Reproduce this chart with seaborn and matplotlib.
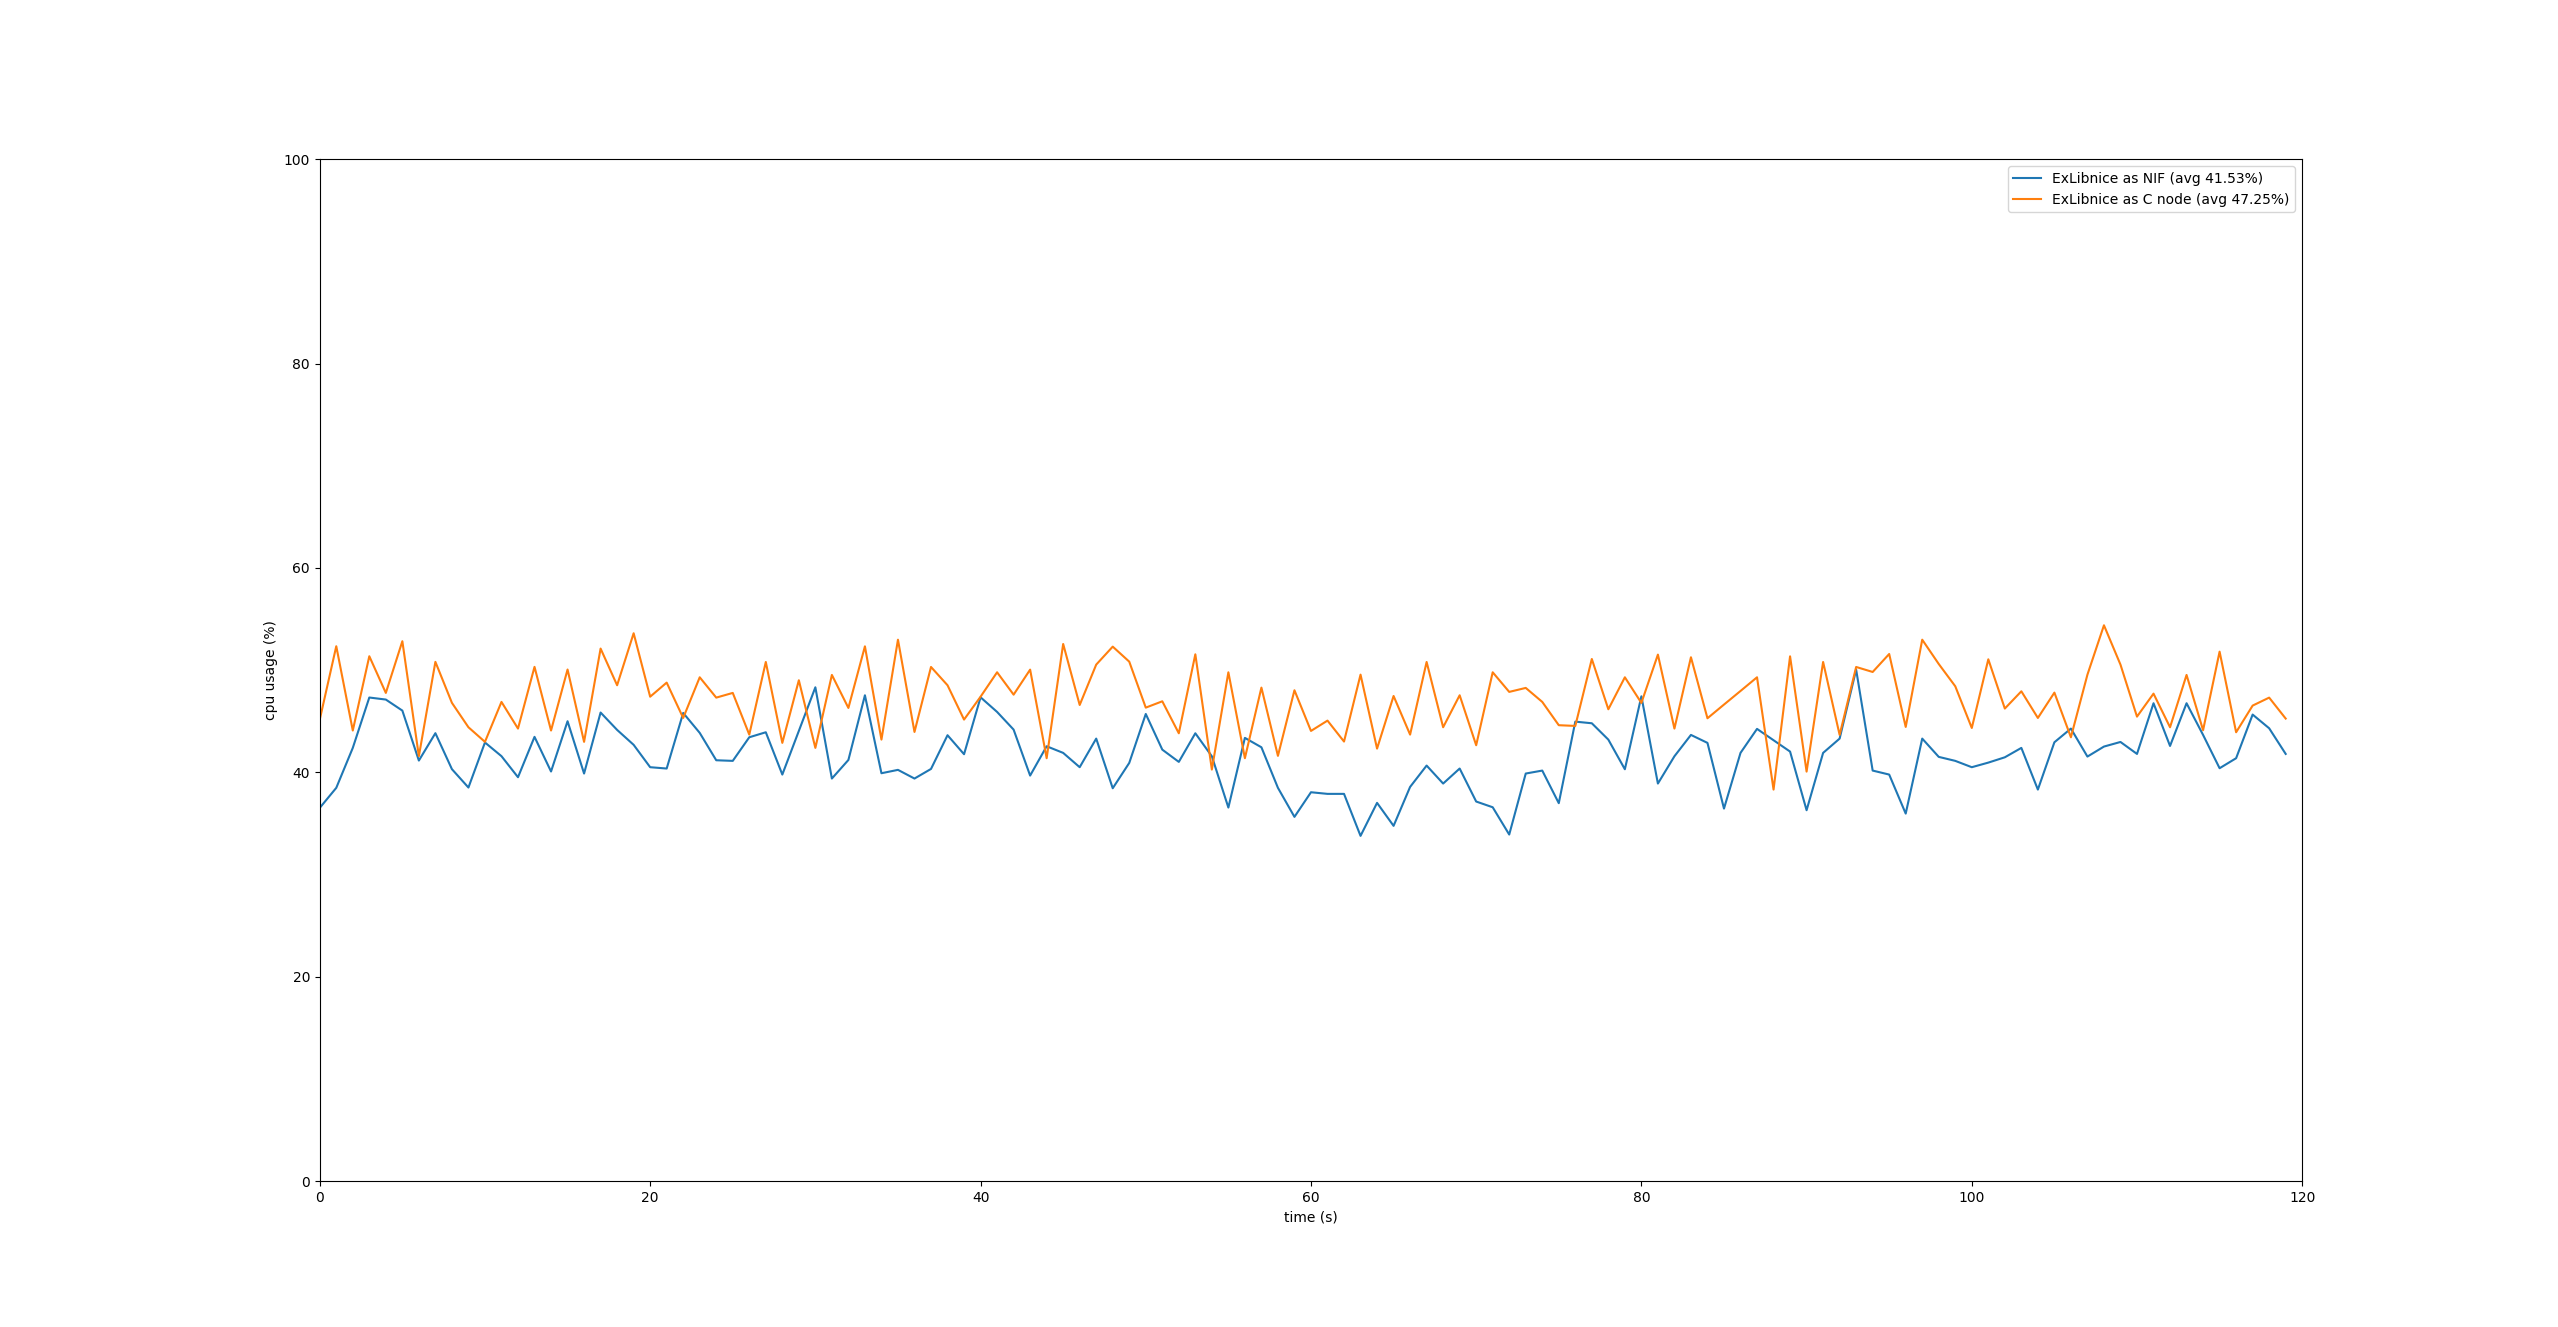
import numpy as np
import pandas as pd
import seaborn as sns
import matplotlib
matplotlib.use('Agg')
import matplotlib.pyplot as plt

# cpu usage samples, one per second
time_s = list(range(120))

nif_usage = [
    36.52, 38.48, 42.39, 47.32, 47.12, 46.04, 41.15, 43.83, 40.31, 38.51,
    42.92, 41.58, 39.52, 43.47, 40.08, 45.00, 39.88, 45.85, 44.15, 42.69,
    40.50, 40.37, 45.81, 43.86, 41.18, 41.12, 43.43, 43.92, 39.78, 44.05,
    48.32, 39.39, 41.21, 47.54, 39.91, 40.24, 39.39, 40.33, 43.63, 41.77,
    47.34, 45.91, 44.18, 39.68, 42.55, 41.90, 40.50, 43.30, 38.44, 40.92,
    45.71, 42.22, 41.02, 43.82, 41.57, 36.55, 43.37, 42.45, 38.48, 35.64,
    38.05, 37.89, 37.89, 33.78, 37.01, 34.76, 38.57, 40.66, 38.90, 40.37,
    37.14, 36.58, 33.91, 39.88, 40.17, 36.98, 44.96, 44.80, 43.20, 40.30,
    47.44, 38.90, 41.57, 43.66, 42.88, 36.45, 41.90, 44.25, 43.14, 42.03,
    36.29, 41.90, 43.30, 50.05, 40.17, 39.78, 35.96, 43.30, 41.51, 41.12,
    40.50, 40.95, 41.47, 42.39, 38.31, 42.94, 44.28, 41.54, 42.52, 42.97,
    41.80, 46.76, 42.58, 46.76, 43.66, 40.40, 41.38, 45.65, 44.31, 41.80,
]

cnode_usage = [
    45.16, 52.34, 44.09, 51.36, 47.77, 52.83, 41.58, 50.81, 46.80, 44.41,
    42.98, 46.89, 44.28, 50.32, 44.09, 50.06, 42.98, 52.11, 48.52, 53.61,
    47.40, 48.78, 45.32, 49.30, 47.31, 47.77, 43.69, 50.80, 42.88, 49.01,
    42.39, 49.53, 46.30, 52.33, 43.20, 52.98, 43.95, 50.31, 48.52, 45.16,
    47.40, 49.79, 47.60, 50.05, 41.38, 52.56, 46.59, 50.54, 52.30, 50.83,
    46.33, 46.95, 43.82, 51.55, 40.27, 49.79, 41.38, 48.29, 41.61, 48.03,
    44.05, 45.06, 43.01, 49.56, 42.32, 47.47, 43.69, 50.80, 44.41, 47.54,
    42.65, 49.79, 47.87, 48.26, 46.89, 44.61, 44.54, 51.09, 46.17, 49.30,
    46.79, 51.52, 44.28, 51.26, 45.29, 46.63, 47.96, 49.30, 38.31, 51.35,
    40.07, 50.80, 43.66, 50.31, 49.82, 51.58, 44.44, 52.98, 50.60, 48.42,
    44.34, 51.06, 46.24, 47.93, 45.32, 47.80, 43.43, 49.56, 54.39, 50.54,
    45.45, 47.70, 44.41, 49.53, 44.12, 51.81, 43.92, 46.53, 47.31, 45.26,
]

labels = ['ExLibnice as NIF (avg 41.53%)', 'ExLibnice as C node (avg 47.25%)']
x_ticks = [0, 20, 40, 60, 80, 100, 120]
y_ticks = [0, 20, 40, 60, 80, 100]

fig, ax = plt.subplots(figsize=(25.58, 13.27), dpi=100)

sns.lineplot(x=time_s, y=nif_usage, color='#1f77b4', label=labels[0], ax=ax)
sns.lineplot(x=time_s, y=cnode_usage, color='#ff7f0e', label=labels[1], ax=ax)

ax.set_xlim(0, 120)
ax.set_ylim(0, 100)
ax.set_xticks(x_ticks)
ax.set_yticks(y_ticks)
ax.set_xlabel('time (s)')
ax.set_ylabel('cpu usage (%)')
ax.legend(loc='upper right')

fig.savefig('out.png', dpi=100)
